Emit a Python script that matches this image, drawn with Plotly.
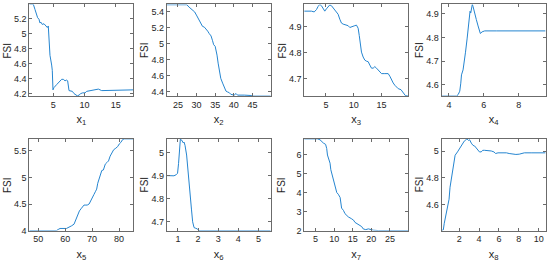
import plotly.graph_objects as go

# ---------------- data ----------------
x1 = [1.15, 1.79, 2.06, 2.32, 2.48, 2.70, 2.86, 3.02, 3.23, 3.50, 3.77, 4.03, 4.19, 4.35, 4.46, 4.73, 4.83,
      4.94, 5.10, 5.53, 5.96, 6.33, 6.60, 6.87, 7.13, 7.29, 7.51, 7.83, 8.04, 8.31, 8.63, 8.84, 9.11, 9.38,
      9.70, 10.07, 10.34, 10.87, 11.41, 11.83, 12.21, 12.74, 13.54, 14.61, 15.14, 15.68, 16.21, 17.8]
fsi1 = [5.39, 5.39, 5.32, 5.23, 5.21, 5.19, 5.14, 5.15, 5.12, 5.13, 5.10, 5.08, 5.10, 4.93, 4.71, 4.58, 4.51,
        4.25, 4.28, 4.32, 4.36, 4.39, 4.39, 4.37, 4.38, 4.37, 4.24, 4.23, 4.23, 4.20, 4.18, 4.17, 4.18, 4.20,
        4.21, 4.21, 4.23, 4.24, 4.25, 4.26, 4.26, 4.24, 4.24, 4.24, 4.25, 4.25, 4.25, 4.25]

x2 = [22.0, 27.4, 28.0, 28.9, 29.5, 30.1, 30.7, 31.2, 31.6, 32.1, 32.5, 33.0, 33.4, 33.9, 34.3, 34.6, 35.0,
      35.2, 35.5, 35.8, 36.2, 36.5, 37.0, 37.4, 37.9, 38.3, 38.8, 39.2, 40.1, 40.6, 41.0, 42.8, 44.2, 44.6,
      45.1, 49.9]
fsi2 = [5.49, 5.49, 5.46, 5.42, 5.40, 5.35, 5.30, 5.26, 5.22, 5.21, 5.19, 5.16, 5.13, 5.10, 5.04, 4.99, 4.97,
        4.93, 4.86, 4.76, 4.65, 4.57, 4.51, 4.46, 4.41, 4.40, 4.39, 4.37, 4.36, 4.38, 4.36, 4.36, 4.36, 4.355,
        4.347, 4.347]

x3 = [1.1, 2.4, 2.9, 3.3, 3.6, 3.9, 4.2, 4.5, 4.8, 5.1, 5.4, 5.7, 6.0, 6.3, 6.6, 6.9, 7.2, 7.5, 7.8, 8.1,
      8.5, 9.0, 9.3, 9.6, 9.9, 10.2, 10.5, 10.8, 11.0, 11.2, 11.4, 11.7, 12.0, 12.3, 12.6, 12.9, 13.2, 13.5,
      13.8, 14.1, 14.4, 14.7, 15.0, 15.6, 16.2, 16.5, 16.8, 17.1, 17.4, 17.7, 18.0, 18.5, 18.9, 19.3, 19.8]
fsi3 = [4.961, 4.961, 4.958, 4.967, 4.979, 4.987, 4.982, 4.970, 4.961, 4.970, 4.979, 4.985, 4.982, 4.974,
        4.967, 4.961, 4.949, 4.930, 4.915, 4.911, 4.907, 4.905, 4.898, 4.901, 4.905, 4.905, 4.907, 4.895,
        4.867, 4.829, 4.803, 4.784, 4.772, 4.768, 4.766, 4.753, 4.741, 4.741, 4.747, 4.741, 4.734, 4.726,
        4.720, 4.720, 4.720, 4.710, 4.696, 4.684, 4.675, 4.667, 4.662, 4.658, 4.645, 4.635, 4.633]

x4 = [3.58, 4.43, 4.53, 4.62, 4.68, 4.72, 4.81, 4.87, 4.95, 5.04, 5.12, 5.17, 5.21, 5.25, 5.29, 5.34, 5.38,
      5.48, 5.57, 5.67, 5.76, 5.80, 5.90, 6.05, 6.71, 9.54]
fsi4 = [4.552, 4.552, 4.559, 4.573, 4.607, 4.642, 4.663, 4.690, 4.738, 4.794, 4.842, 4.876, 4.911, 4.904,
        4.918, 4.940, 4.932, 4.897, 4.876, 4.849, 4.821, 4.817, 4.824, 4.828, 4.828, 4.828]

x5 = [46.7, 56.8, 57.4, 58.1, 60.5, 61.2, 61.8, 62.4, 63.3, 64.0, 64.6, 65.3, 65.9, 66.5, 67.0, 67.7, 68.2,
      68.9, 69.5, 70.1, 70.7, 71.3, 71.7, 72.1, 72.6, 73.0, 73.6, 74.2, 74.9, 75.5, 76.1, 76.7, 77.4, 78.0,
      78.8, 79.5, 80.1, 80.7, 81.3, 81.9, 85.3]
fsi5 = [4.00, 4.00, 4.02, 4.04, 4.04, 4.055, 4.07, 4.09, 4.12, 4.22, 4.29, 4.37, 4.41, 4.46, 4.48, 4.48, 4.48,
        4.50, 4.57, 4.62, 4.68, 4.74, 4.78, 4.89, 4.98, 5.04, 5.13, 5.14, 5.25, 5.28, 5.31, 5.40, 5.48, 5.52,
        5.55, 5.58, 5.63, 5.66, 5.71, 5.726, 5.726]

x6 = [0.44, 0.80, 0.90, 0.98, 1.03, 1.08, 1.12, 1.17, 1.22, 1.27, 1.30, 1.35, 1.43, 1.50, 1.55, 1.60, 1.67,
      1.73, 1.80, 1.88, 1.97, 2.05, 5.61]
fsi6 = [4.900, 4.899, 4.903, 4.910, 4.953, 5.024, 5.059, 5.055, 5.045, 5.041, 5.045, 5.031, 4.989, 4.910,
        4.882, 4.826, 4.755, 4.700, 4.675, 4.672, 4.669, 4.662, 4.662]

x7 = [1.95, 5.5, 6.2, 6.6, 7.1, 7.7, 8.0, 8.2, 8.6, 8.9, 9.1, 9.5, 9.9, 10.2, 10.7, 11.1, 11.6, 12.0, 12.5,
      12.9, 13.4, 13.8, 14.6, 15.2, 15.6, 16.3, 17.0, 17.4, 17.8, 18.5, 19.2, 19.9, 20.5, 21.9, 29.9]
fsi7 = [6.82, 6.82, 6.77, 6.68, 6.60, 6.53, 6.31, 5.97, 5.71, 5.54, 5.20, 4.86, 4.52, 4.26, 4.00, 3.91, 3.74,
        3.18, 3.06, 2.89, 2.77, 2.72, 2.63, 2.55, 2.43, 2.34, 2.29, 2.21, 2.09, 2.05, 2.09, 2.05, 2.02, 2.00,
        2.00]

x8 = [0.23, 0.40, 0.50, 0.64, 0.81, 0.98, 1.08, 1.25, 1.42, 1.59, 1.83, 2.03, 2.17, 2.34, 2.51, 2.68, 2.78,
      2.95, 3.05, 3.22, 3.39, 3.56, 3.70, 3.87, 4.04, 4.21, 4.38, 4.55, 4.89, 5.23, 5.50, 5.67, 5.91, 6.25,
      6.52, 6.76, 7.03, 7.37, 7.71, 8.05, 8.29, 8.56, 9.24, 10.7]
fsi8 = [4.405, 4.41, 4.46, 4.51, 4.56, 4.64, 4.73, 4.81, 4.91, 4.97, 4.995, 5.02, 5.044, 5.061, 5.076, 5.086,
        5.093, 5.081, 5.086, 5.061, 5.044, 5.039, 5.027, 5.007, 4.995, 4.995, 5.007, 5.007, 5.005, 5.002,
        4.995, 4.983, 4.988, 4.988, 4.990, 4.988, 4.983, 4.978, 4.976, 4.978, 4.983, 4.988, 4.988, 4.988]

# axis ranges and tick labels
x_ranges = [[1.15, 17.8], [22.0, 49.9], [1.1, 19.8], [3.58, 9.54],
            [46.7, 85.3], [0.44, 5.61], [1.95, 29.9], [0.23, 10.7]]
y_ranges = [[4.166, 5.387], [4.347, 5.494], [4.633, 4.987], [4.552, 4.940],
            [4.0, 5.726], [4.662, 5.059], [2.0, 6.82], [4.405, 5.093]]
x_ticks = [[5, 10, 15], [25, 30, 35, 40, 45], [5, 10, 15], [4, 6, 8],
           [50, 60, 70, 80], [1, 2, 3, 4, 5], [5, 10, 15, 20, 25], [2, 4, 6, 8, 10]]
y_ticks = [[4.2, 4.4, 4.6, 4.8, 5.0, 5.2], [4.4, 4.6, 4.8, 5.0, 5.2, 5.4], [4.7, 4.8, 4.9],
           [4.6, 4.7, 4.8, 4.9], [4.0, 4.5, 5.0, 5.5], [4.7, 4.8, 4.9, 5.0],
           [2, 3, 4, 5, 6], [4.6, 4.8, 5.0]]
x_titles = ["x<sub>%d</sub>" % i for i in range(1, 9)]
y_title = "FSI"

series_x = [x1, x2, x3, x4, x5, x6, x7, x8]
series_y = [fsi1, fsi2, fsi3, fsi4, fsi5, fsi6, fsi7, fsi8]

# ---------------- layout (pixels) ----------------
W, H = 550, 266
col_left = [29.3, 166.7, 304.2, 441.6]
col_w = 104.0
row_top = [4.5, 141.5]
row_h = 93.5

FONT = "Liberation Sans, Arial, Helvetica, sans-serif"
TXT = "#262626"
LINE = "#2585d0"
AX = "#6b6b6b"
TICK_SIZE = 9
YTITLE_SIZE = 10
XTITLE_SIZE = 11

fig = go.Figure()
layout = dict(width=W, height=H, margin=dict(l=0, r=0, t=0, b=0),
              paper_bgcolor="white", plot_bgcolor="white", showlegend=False,
              font=dict(family=FONT, size=TICK_SIZE, color=TXT))
annotations = []

for i in range(8):
    r, c = divmod(i, 4)
    xa = "x" if i == 0 else "x%d" % (i + 1)
    ya = "y" if i == 0 else "y%d" % (i + 1)
    fig.add_trace(go.Scatter(x=series_x[i], y=series_y[i], mode="lines",
                             line=dict(color=LINE, width=1), xaxis=xa, yaxis=ya,
                             hoverinfo="skip"))
    x0 = col_left[c] / W
    x1d = (col_left[c] + col_w) / W
    y1d = 1 - row_top[r] / H
    y0 = 1 - (row_top[r] + row_h) / H
    common = dict(showline=True, linecolor=AX, linewidth=1, mirror="ticks",
                  ticks="inside", ticklen=3, tickcolor=AX, showgrid=False,
                  zeroline=False, tickfont=dict(family=FONT, size=TICK_SIZE, color=TXT))
    layout["xaxis" if i == 0 else "xaxis%d" % (i + 1)] = dict(
        domain=[x0, x1d], range=x_ranges[i], anchor=ya,
        tickvals=x_ticks[i], ticktext=["%g" % v for v in x_ticks[i]],
        title=dict(text=x_titles[i], font=dict(family=FONT, size=XTITLE_SIZE, color=TXT), standoff=6),
        **common)
    layout["yaxis" if i == 0 else "yaxis%d" % (i + 1)] = dict(
        domain=[y0, y1d], range=y_ranges[i], anchor=xa,
        tickvals=y_ticks[i], ticktext=["%g" % v for v in y_ticks[i]],
        **common)
    annotations.append(dict(text=y_title, xref="%s domain" % xa, yref="%s domain" % ya,
                            x=0, y=0.5, xshift=-22, xanchor="center", yanchor="middle",
                            textangle=-90, showarrow=False,
                            font=dict(family=FONT, size=YTITLE_SIZE, color=TXT)))

layout["annotations"] = annotations
fig.update_layout(**layout)
fig.write_html("out.html", config={"displayModeBar": False, "staticPlot": True},
               post_script="document.body.style.margin='0';document.body.style.overflow='hidden';")
